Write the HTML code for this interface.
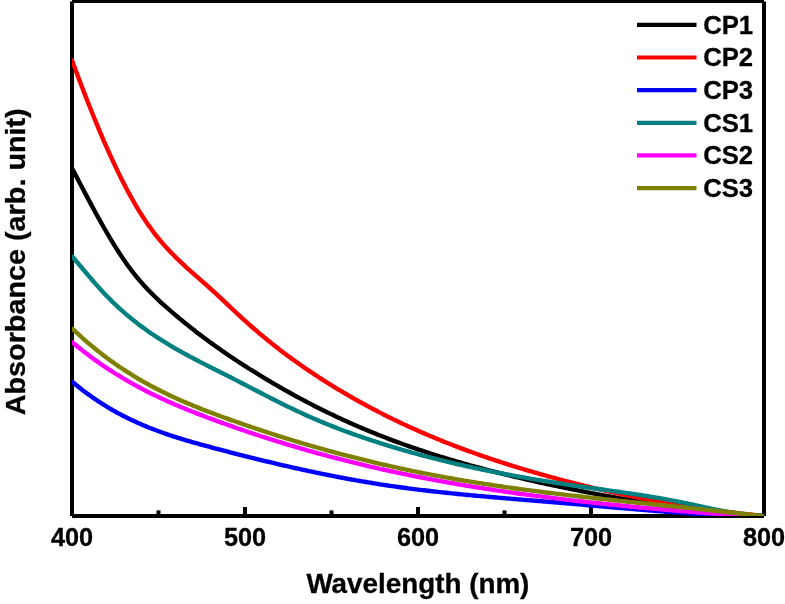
<!DOCTYPE html>
<html><head><meta charset="utf-8"><title>Absorbance</title>
<style>
html,body{margin:0;padding:0;background:#fff;}
body{width:785px;height:604px;overflow:hidden;}
svg{display:block;}
text{font-family:"Liberation Sans",Arial,Helvetica,sans-serif;font-weight:bold;fill:#000;stroke:#000;stroke-width:0.3px;}
.tk{font-size:25.3px;}
.lg{font-size:25.7px;}
.ax{font-size:27.9px;}
.ay{font-size:28.3px;}
.curves path{fill:none;stroke-width:4.4;stroke-linejoin:round;stroke-linecap:butt;}
</style></head><body>
<svg width="785" height="604" viewBox="0 0 785 604">
<rect x="0" y="0" width="785" height="604" fill="#fff"/>
<g>
<rect x="72" y="0" width="692" height="3" fill="#000"/>
<rect x="70" y="1.5" width="4" height="514.5" fill="#000"/>
<rect x="762" y="1.5" width="4" height="514.5" fill="#000"/>
<rect x="72" y="514" width="692" height="4" fill="#000"/>
<rect x="243" y="507" width="4" height="8" fill="#000"/>
<rect x="416" y="507" width="4" height="8" fill="#000"/>
<rect x="589" y="507" width="4" height="8" fill="#000"/>
<rect x="156.5" y="510.4" width="4" height="4.6" fill="#000"/>
<rect x="329.5" y="510.4" width="4" height="4.6" fill="#000"/>
<rect x="502.5" y="510.4" width="4" height="4.6" fill="#000"/>
<rect x="675.5" y="510.4" width="4" height="4.6" fill="#000"/>
</g>
<defs><clipPath id="pc"><rect x="72" y="0" width="692.4" height="516"/></clipPath></defs>
<g class="curves" clip-path="url(#pc)">
<path d="M71.5,167.20 L72.0,168.16 L74.0,171.98 L76.0,175.81 L78.0,179.64 L80.0,183.46 L82.0,187.27 L84.0,191.07 L86.0,194.85 L88.0,198.62 L90.0,202.37 L92.0,206.09 L94.0,209.79 L96.0,213.45 L98.0,217.09 L100.0,220.69 L102.0,224.25 L104.0,227.77 L106.0,231.24 L108.0,234.67 L110.0,238.05 L112.0,241.37 L114.0,244.64 L116.0,247.85 L118.0,251.00 L120.0,254.08 L122.0,257.10 L124.0,260.04 L126.0,262.91 L128.0,265.70 L130.0,268.41 L132.0,271.05 L134.0,273.61 L136.0,276.10 L138.0,278.52 L140.0,280.88 L142.0,283.17 L144.0,285.41 L146.0,287.59 L148.0,289.72 L150.0,291.79 L152.0,293.82 L154.0,295.80 L156.0,297.75 L158.0,299.65 L160.0,301.52 L162.0,303.36 L164.0,305.16 L166.0,306.94 L168.0,308.70 L170.0,310.43 L172.0,312.15 L174.0,313.85 L176.0,315.54 L178.0,317.22 L180.0,318.87 L182.0,320.52 L184.0,322.15 L186.0,323.77 L188.0,325.37 L190.0,326.96 L192.0,328.54 L194.0,330.10 L196.0,331.66 L198.0,333.19 L200.0,334.72 L202.0,336.23 L204.0,337.73 L206.0,339.22 L208.0,340.70 L210.0,342.16 L212.0,343.62 L214.0,345.06 L216.0,346.49 L218.0,347.91 L220.0,349.32 L222.0,350.72 L224.0,352.10 L226.0,353.48 L228.0,354.85 L230.0,356.20 L232.0,357.55 L234.0,358.88 L236.0,360.21 L238.0,361.53 L240.0,362.84 L242.0,364.13 L244.0,365.42 L246.0,366.70 L248.0,367.98 L250.0,369.24 L252.0,370.49 L254.0,371.74 L256.0,372.98 L258.0,374.21 L260.0,375.43 L262.0,376.65 L264.0,377.86 L266.0,379.06 L268.0,380.25 L270.0,381.44 L272.0,382.62 L274.0,383.79 L276.0,384.95 L278.0,386.11 L280.0,387.26 L282.0,388.40 L284.0,389.54 L286.0,390.67 L288.0,391.79 L290.0,392.90 L292.0,394.01 L294.0,395.10 L296.0,396.20 L298.0,397.28 L300.0,398.36 L302.0,399.43 L304.0,400.49 L306.0,401.54 L308.0,402.59 L310.0,403.63 L312.0,404.66 L314.0,405.69 L316.0,406.71 L318.0,407.72 L320.0,408.72 L322.0,409.72 L324.0,410.71 L326.0,411.69 L328.0,412.66 L330.0,413.63 L332.0,414.59 L334.0,415.54 L336.0,416.49 L338.0,417.43 L340.0,418.36 L342.0,419.28 L344.0,420.20 L346.0,421.10 L348.0,422.01 L350.0,422.90 L352.0,423.79 L354.0,424.67 L356.0,425.54 L358.0,426.41 L360.0,427.26 L362.0,428.12 L364.0,428.96 L366.0,429.80 L368.0,430.63 L370.0,431.45 L372.0,432.27 L374.0,433.08 L376.0,433.89 L378.0,434.69 L380.0,435.48 L382.0,436.26 L384.0,437.04 L386.0,437.82 L388.0,438.58 L390.0,439.34 L392.0,440.10 L394.0,440.84 L396.0,441.59 L398.0,442.32 L400.0,443.05 L402.0,443.78 L404.0,444.49 L406.0,445.21 L408.0,445.91 L410.0,446.61 L412.0,447.31 L414.0,448.00 L416.0,448.68 L418.0,449.36 L420.0,450.04 L422.0,450.70 L424.0,451.37 L426.0,452.02 L428.0,452.68 L430.0,453.32 L432.0,453.97 L434.0,454.60 L436.0,455.23 L438.0,455.86 L440.0,456.48 L442.0,457.10 L444.0,457.71 L446.0,458.32 L448.0,458.92 L450.0,459.52 L452.0,460.12 L454.0,460.70 L456.0,461.29 L458.0,461.87 L460.0,462.45 L462.0,463.02 L464.0,463.58 L466.0,464.15 L468.0,464.71 L470.0,465.26 L472.0,465.81 L474.0,466.36 L476.0,466.90 L478.0,467.44 L480.0,467.97 L482.0,468.50 L484.0,469.03 L486.0,469.56 L488.0,470.08 L490.0,470.59 L492.0,471.10 L494.0,471.61 L496.0,472.12 L498.0,472.62 L500.0,473.12 L502.0,473.62 L504.0,474.11 L506.0,474.60 L508.0,475.08 L510.0,475.57 L512.0,476.05 L514.0,476.52 L516.0,477.00 L518.0,477.47 L520.0,477.94 L522.0,478.40 L524.0,478.87 L526.0,479.33 L528.0,479.78 L530.0,480.24 L532.0,480.69 L534.0,481.14 L536.0,481.59 L538.0,482.03 L540.0,482.48 L542.0,482.92 L544.0,483.36 L546.0,483.79 L548.0,484.23 L550.0,484.66 L552.0,485.09 L554.0,485.52 L556.0,485.94 L558.0,486.36 L560.0,486.78 L562.0,487.20 L564.0,487.62 L566.0,488.03 L568.0,488.44 L570.0,488.85 L572.0,489.26 L574.0,489.66 L576.0,490.06 L578.0,490.46 L580.0,490.86 L582.0,491.25 L584.0,491.65 L586.0,492.04 L588.0,492.42 L590.0,492.81 L592.0,493.19 L594.0,493.57 L596.0,493.95 L598.0,494.33 L600.0,494.70 L602.0,495.07 L604.0,495.44 L606.0,495.81 L608.0,496.17 L610.0,496.53 L612.0,496.89 L614.0,497.25 L616.0,497.60 L618.0,497.95 L620.0,498.30 L622.0,498.65 L624.0,498.99 L626.0,499.33 L628.0,499.67 L630.0,500.01 L632.0,500.34 L634.0,500.67 L636.0,501.00 L638.0,501.33 L640.0,501.65 L642.0,501.97 L644.0,502.29 L646.0,502.61 L648.0,502.92 L650.0,503.23 L652.0,503.54 L654.0,503.85 L656.0,504.15 L658.0,504.45 L660.0,504.75 L662.0,505.05 L664.0,505.34 L666.0,505.63 L668.0,505.92 L670.0,506.20 L672.0,506.49 L674.0,506.77 L676.0,507.04 L678.0,507.32 L680.0,507.59 L682.0,507.86 L684.0,508.13 L686.0,508.39 L688.0,508.65 L690.0,508.91 L692.0,509.17 L694.0,509.42 L696.0,509.67 L698.0,509.92 L700.0,510.16 L702.0,510.40 L704.0,510.64 L706.0,510.88 L708.0,511.12 L710.0,511.35 L712.0,511.58 L714.0,511.80 L716.0,512.02 L718.0,512.24 L720.0,512.46 L722.0,512.68 L724.0,512.89 L726.0,513.10 L728.0,513.30 L730.0,513.51 L732.0,513.71 L734.0,513.91 L736.0,514.10 L738.0,514.29 L740.0,514.48 L742.0,514.67 L744.0,514.85 L746.0,515.03 L748.0,515.21 L750.0,515.39 L752.0,515.56 L754.0,515.73 L756.0,515.90 L758.0,516.06 L760.0,516.22 L762.0,516.38 L764.0,516.53" stroke="#000000"/>
<path d="M71.5,58.86 L72.0,60.22 L74.0,65.67 L76.0,71.07 L78.0,76.43 L80.0,81.74 L82.0,87.00 L84.0,92.21 L86.0,97.37 L88.0,102.47 L90.0,107.53 L92.0,112.52 L94.0,117.46 L96.0,122.35 L98.0,127.17 L100.0,131.93 L102.0,136.63 L104.0,141.27 L106.0,145.84 L108.0,150.35 L110.0,154.79 L112.0,159.16 L114.0,163.46 L116.0,167.68 L118.0,171.84 L120.0,175.92 L122.0,179.93 L124.0,183.86 L126.0,187.71 L128.0,191.48 L130.0,195.17 L132.0,198.78 L134.0,202.30 L136.0,205.74 L138.0,209.09 L140.0,212.36 L142.0,215.53 L144.0,218.62 L146.0,221.61 L148.0,224.52 L150.0,227.33 L152.0,230.07 L154.0,232.72 L156.0,235.29 L158.0,237.80 L160.0,240.23 L162.0,242.59 L164.0,244.89 L166.0,247.14 L168.0,249.32 L170.0,251.46 L172.0,253.54 L174.0,255.58 L176.0,257.57 L178.0,259.53 L180.0,261.45 L182.0,263.34 L184.0,265.20 L186.0,267.03 L188.0,268.84 L190.0,270.64 L192.0,272.41 L194.0,274.18 L196.0,275.94 L198.0,277.69 L200.0,279.44 L202.0,281.19 L204.0,282.94 L206.0,284.70 L208.0,286.46 L210.0,288.24 L212.0,290.04 L214.0,291.85 L216.0,293.68 L218.0,295.53 L220.0,297.40 L222.0,299.28 L224.0,301.17 L226.0,303.06 L228.0,304.96 L230.0,306.85 L232.0,308.75 L234.0,310.63 L236.0,312.51 L238.0,314.38 L240.0,316.23 L242.0,318.07 L244.0,319.88 L246.0,321.68 L248.0,323.47 L250.0,325.24 L252.0,326.99 L254.0,328.72 L256.0,330.44 L258.0,332.15 L260.0,333.83 L262.0,335.51 L264.0,337.16 L266.0,338.81 L268.0,340.43 L270.0,342.04 L272.0,343.64 L274.0,345.23 L276.0,346.79 L278.0,348.35 L280.0,349.89 L282.0,351.42 L284.0,352.93 L286.0,354.43 L288.0,355.92 L290.0,357.39 L292.0,358.85 L294.0,360.30 L296.0,361.73 L298.0,363.16 L300.0,364.57 L302.0,365.96 L304.0,367.35 L306.0,368.73 L308.0,370.09 L310.0,371.44 L312.0,372.78 L314.0,374.11 L316.0,375.43 L318.0,376.74 L320.0,378.03 L322.0,379.32 L324.0,380.60 L326.0,381.86 L328.0,383.12 L330.0,384.37 L332.0,385.60 L334.0,386.83 L336.0,388.05 L338.0,389.26 L340.0,390.46 L342.0,391.65 L344.0,392.83 L346.0,394.01 L348.0,395.17 L350.0,396.33 L352.0,397.47 L354.0,398.61 L356.0,399.74 L358.0,400.86 L360.0,401.97 L362.0,403.08 L364.0,404.17 L366.0,405.26 L368.0,406.34 L370.0,407.41 L372.0,408.47 L374.0,409.52 L376.0,410.56 L378.0,411.60 L380.0,412.63 L382.0,413.65 L384.0,414.67 L386.0,415.67 L388.0,416.67 L390.0,417.66 L392.0,418.64 L394.0,419.61 L396.0,420.58 L398.0,421.54 L400.0,422.49 L402.0,423.44 L404.0,424.37 L406.0,425.30 L408.0,426.23 L410.0,427.14 L412.0,428.05 L414.0,428.95 L416.0,429.85 L418.0,430.74 L420.0,431.62 L422.0,432.49 L424.0,433.36 L426.0,434.22 L428.0,435.07 L430.0,435.92 L432.0,436.76 L434.0,437.59 L436.0,438.42 L438.0,439.24 L440.0,440.06 L442.0,440.87 L444.0,441.67 L446.0,442.46 L448.0,443.25 L450.0,444.04 L452.0,444.82 L454.0,445.59 L456.0,446.36 L458.0,447.12 L460.0,447.87 L462.0,448.62 L464.0,449.37 L466.0,450.10 L468.0,450.84 L470.0,451.56 L472.0,452.29 L474.0,453.00 L476.0,453.71 L478.0,454.42 L480.0,455.12 L482.0,455.82 L484.0,456.51 L486.0,457.19 L488.0,457.87 L490.0,458.55 L492.0,459.22 L494.0,459.89 L496.0,460.55 L498.0,461.21 L500.0,461.86 L502.0,462.51 L504.0,463.15 L506.0,463.79 L508.0,464.42 L510.0,465.05 L512.0,465.68 L514.0,466.30 L516.0,466.92 L518.0,467.53 L520.0,468.14 L522.0,468.75 L524.0,469.35 L526.0,469.95 L528.0,470.54 L530.0,471.13 L532.0,471.72 L534.0,472.30 L536.0,472.88 L538.0,473.46 L540.0,474.03 L542.0,474.60 L544.0,475.16 L546.0,475.72 L548.0,476.28 L550.0,476.83 L552.0,477.38 L554.0,477.92 L556.0,478.46 L558.0,479.00 L560.0,479.54 L562.0,480.07 L564.0,480.59 L566.0,481.11 L568.0,481.63 L570.0,482.15 L572.0,482.66 L574.0,483.17 L576.0,483.67 L578.0,484.17 L580.0,484.67 L582.0,485.17 L584.0,485.66 L586.0,486.14 L588.0,486.62 L590.0,487.10 L592.0,487.58 L594.0,488.05 L596.0,488.52 L598.0,488.98 L600.0,489.45 L602.0,489.90 L604.0,490.36 L606.0,490.81 L608.0,491.26 L610.0,491.70 L612.0,492.14 L614.0,492.58 L616.0,493.01 L618.0,493.44 L620.0,493.87 L622.0,494.29 L624.0,494.71 L626.0,495.13 L628.0,495.54 L630.0,495.95 L632.0,496.35 L634.0,496.76 L636.0,497.15 L638.0,497.55 L640.0,497.94 L642.0,498.33 L644.0,498.72 L646.0,499.10 L648.0,499.48 L650.0,499.85 L652.0,500.22 L654.0,500.59 L656.0,500.96 L658.0,501.32 L660.0,501.68 L662.0,502.03 L664.0,502.39 L666.0,502.74 L668.0,503.08 L670.0,503.42 L672.0,503.76 L674.0,504.10 L676.0,504.43 L678.0,504.76 L680.0,505.09 L682.0,505.41 L684.0,505.73 L686.0,506.05 L688.0,506.36 L690.0,506.67 L692.0,506.98 L694.0,507.28 L696.0,507.58 L698.0,507.88 L700.0,508.17 L702.0,508.46 L704.0,508.75 L706.0,509.04 L708.0,509.32 L710.0,509.60 L712.0,509.87 L714.0,510.14 L716.0,510.41 L718.0,510.68 L720.0,510.94 L722.0,511.20 L724.0,511.46 L726.0,511.72 L728.0,511.97 L730.0,512.21 L732.0,512.46 L734.0,512.70 L736.0,512.94 L738.0,513.18 L740.0,513.41 L742.0,513.64 L744.0,513.87 L746.0,514.09 L748.0,514.31 L750.0,514.53 L752.0,514.75 L754.0,514.96 L756.0,515.17 L758.0,515.38 L760.0,515.58 L762.0,515.78 L764.0,515.98" stroke="#ff0000"/>
<path d="M71.5,381.15 L72.0,381.57 L74.0,383.24 L76.0,384.89 L78.0,386.50 L80.0,388.09 L82.0,389.65 L84.0,391.17 L86.0,392.67 L88.0,394.14 L90.0,395.58 L92.0,397.00 L94.0,398.38 L96.0,399.74 L98.0,401.08 L100.0,402.39 L102.0,403.67 L104.0,404.93 L106.0,406.17 L108.0,407.38 L110.0,408.56 L112.0,409.73 L114.0,410.87 L116.0,411.99 L118.0,413.08 L120.0,414.16 L122.0,415.21 L124.0,416.24 L126.0,417.26 L128.0,418.25 L130.0,419.22 L132.0,420.18 L134.0,421.11 L136.0,422.03 L138.0,422.93 L140.0,423.81 L142.0,424.68 L144.0,425.53 L146.0,426.36 L148.0,427.18 L150.0,427.98 L152.0,428.77 L154.0,429.54 L156.0,430.30 L158.0,431.04 L160.0,431.78 L162.0,432.49 L164.0,433.20 L166.0,433.90 L168.0,434.58 L170.0,435.25 L172.0,435.91 L174.0,436.56 L176.0,437.20 L178.0,437.83 L180.0,438.46 L182.0,439.07 L184.0,439.68 L186.0,440.27 L188.0,440.86 L190.0,441.45 L192.0,442.03 L194.0,442.60 L196.0,443.16 L198.0,443.72 L200.0,444.28 L202.0,444.83 L204.0,445.37 L206.0,445.91 L208.0,446.45 L210.0,446.99 L212.0,447.53 L214.0,448.06 L216.0,448.59 L218.0,449.12 L220.0,449.65 L222.0,450.17 L224.0,450.70 L226.0,451.22 L228.0,451.74 L230.0,452.26 L232.0,452.78 L234.0,453.29 L236.0,453.80 L238.0,454.32 L240.0,454.83 L242.0,455.33 L244.0,455.84 L246.0,456.35 L248.0,456.85 L250.0,457.35 L252.0,457.85 L254.0,458.34 L256.0,458.84 L258.0,459.33 L260.0,459.82 L262.0,460.31 L264.0,460.79 L266.0,461.28 L268.0,461.76 L270.0,462.23 L272.0,462.71 L274.0,463.19 L276.0,463.66 L278.0,464.13 L280.0,464.59 L282.0,465.06 L284.0,465.52 L286.0,465.98 L288.0,466.44 L290.0,466.89 L292.0,467.34 L294.0,467.79 L296.0,468.24 L298.0,468.69 L300.0,469.13 L302.0,469.57 L304.0,470.00 L306.0,470.44 L308.0,470.87 L310.0,471.29 L312.0,471.72 L314.0,472.14 L316.0,472.56 L318.0,472.98 L320.0,473.39 L322.0,473.80 L324.0,474.21 L326.0,474.61 L328.0,475.02 L330.0,475.41 L332.0,475.81 L334.0,476.20 L336.0,476.59 L338.0,476.98 L340.0,477.36 L342.0,477.74 L344.0,478.12 L346.0,478.49 L348.0,478.86 L350.0,479.22 L352.0,479.59 L354.0,479.95 L356.0,480.30 L358.0,480.66 L360.0,481.01 L362.0,481.35 L364.0,481.69 L366.0,482.03 L368.0,482.37 L370.0,482.70 L372.0,483.03 L374.0,483.35 L376.0,483.67 L378.0,483.99 L380.0,484.30 L382.0,484.61 L384.0,484.92 L386.0,485.22 L388.0,485.52 L390.0,485.81 L392.0,486.10 L394.0,486.39 L396.0,486.68 L398.0,486.96 L400.0,487.23 L402.0,487.51 L404.0,487.78 L406.0,488.04 L408.0,488.31 L410.0,488.57 L412.0,488.82 L414.0,489.08 L416.0,489.33 L418.0,489.58 L420.0,489.82 L422.0,490.06 L424.0,490.30 L426.0,490.54 L428.0,490.78 L430.0,491.01 L432.0,491.24 L434.0,491.46 L436.0,491.68 L438.0,491.91 L440.0,492.12 L442.0,492.34 L444.0,492.56 L446.0,492.77 L448.0,492.98 L450.0,493.18 L452.0,493.39 L454.0,493.59 L456.0,493.79 L458.0,493.99 L460.0,494.19 L462.0,494.39 L464.0,494.58 L466.0,494.77 L468.0,494.96 L470.0,495.15 L472.0,495.34 L474.0,495.52 L476.0,495.71 L478.0,495.89 L480.0,496.07 L482.0,496.25 L484.0,496.43 L486.0,496.61 L488.0,496.78 L490.0,496.96 L492.0,497.13 L494.0,497.31 L496.0,497.48 L498.0,497.65 L500.0,497.82 L502.0,497.99 L504.0,498.16 L506.0,498.33 L508.0,498.49 L510.0,498.66 L512.0,498.83 L514.0,498.99 L516.0,499.16 L518.0,499.32 L520.0,499.49 L522.0,499.65 L524.0,499.82 L526.0,499.98 L528.0,500.14 L530.0,500.31 L532.0,500.47 L534.0,500.63 L536.0,500.80 L538.0,500.96 L540.0,501.13 L542.0,501.29 L544.0,501.45 L546.0,501.62 L548.0,501.78 L550.0,501.95 L552.0,502.12 L554.0,502.28 L556.0,502.45 L558.0,502.62 L560.0,502.78 L562.0,502.95 L564.0,503.12 L566.0,503.29 L568.0,503.47 L570.0,503.64 L572.0,503.81 L574.0,503.98 L576.0,504.16 L578.0,504.33 L580.0,504.50 L582.0,504.68 L584.0,504.85 L586.0,505.03 L588.0,505.20 L590.0,505.38 L592.0,505.55 L594.0,505.73 L596.0,505.90 L598.0,506.08 L600.0,506.26 L602.0,506.43 L604.0,506.61 L606.0,506.78 L608.0,506.95 L610.0,507.13 L612.0,507.30 L614.0,507.48 L616.0,507.65 L618.0,507.82 L620.0,507.99 L622.0,508.17 L624.0,508.34 L626.0,508.51 L628.0,508.68 L630.0,508.84 L632.0,509.01 L634.0,509.18 L636.0,509.35 L638.0,509.51 L640.0,509.67 L642.0,509.84 L644.0,510.00 L646.0,510.16 L648.0,510.32 L650.0,510.48 L652.0,510.64 L654.0,510.79 L656.0,510.95 L658.0,511.10 L660.0,511.25 L662.0,511.40 L664.0,511.55 L666.0,511.70 L668.0,511.84 L670.0,511.99 L672.0,512.13 L674.0,512.27 L676.0,512.41 L678.0,512.54 L680.0,512.68 L682.0,512.81 L684.0,512.94 L686.0,513.07 L688.0,513.20 L690.0,513.32 L692.0,513.44 L694.0,513.56 L696.0,513.68 L698.0,513.80 L700.0,513.91 L702.0,514.02 L704.0,514.13 L706.0,514.24 L708.0,514.34 L710.0,514.44 L712.0,514.54 L714.0,514.63 L716.0,514.73 L718.0,514.82 L720.0,514.90 L722.0,514.99 L724.0,515.07 L726.0,515.15 L728.0,515.22 L730.0,515.30 L732.0,515.36 L734.0,515.43 L736.0,515.49 L738.0,515.55 L740.0,515.61 L742.0,515.66 L744.0,515.71 L746.0,515.76 L748.0,515.80 L750.0,515.84 L752.0,515.88 L754.0,515.91 L756.0,515.94 L758.0,515.96 L760.0,515.99 L762.0,516.00 L764.0,516.02" stroke="#0000ff"/>
<path d="M71.5,255.52 L72.0,256.10 L74.0,258.46 L76.0,260.83 L78.0,263.21 L80.0,265.59 L82.0,267.98 L84.0,270.35 L86.0,272.73 L88.0,275.09 L90.0,277.44 L92.0,279.77 L94.0,282.08 L96.0,284.36 L98.0,286.61 L100.0,288.84 L102.0,291.02 L104.0,293.17 L106.0,295.28 L108.0,297.34 L110.0,299.36 L112.0,301.35 L114.0,303.29 L116.0,305.19 L118.0,307.06 L120.0,308.89 L122.0,310.68 L124.0,312.44 L126.0,314.17 L128.0,315.86 L130.0,317.52 L132.0,319.15 L134.0,320.75 L136.0,322.32 L138.0,323.87 L140.0,325.38 L142.0,326.87 L144.0,328.33 L146.0,329.77 L148.0,331.19 L150.0,332.58 L152.0,333.95 L154.0,335.30 L156.0,336.62 L158.0,337.93 L160.0,339.22 L162.0,340.48 L164.0,341.73 L166.0,342.96 L168.0,344.18 L170.0,345.38 L172.0,346.56 L174.0,347.73 L176.0,348.88 L178.0,350.02 L180.0,351.14 L182.0,352.26 L184.0,353.36 L186.0,354.45 L188.0,355.53 L190.0,356.60 L192.0,357.66 L194.0,358.72 L196.0,359.77 L198.0,360.81 L200.0,361.84 L202.0,362.87 L204.0,363.89 L206.0,364.91 L208.0,365.92 L210.0,366.94 L212.0,367.95 L214.0,368.96 L216.0,369.96 L218.0,370.97 L220.0,371.98 L222.0,372.99 L224.0,374.00 L226.0,375.01 L228.0,376.03 L230.0,377.05 L232.0,378.08 L234.0,379.10 L236.0,380.13 L238.0,381.16 L240.0,382.20 L242.0,383.23 L244.0,384.27 L246.0,385.30 L248.0,386.34 L250.0,387.38 L252.0,388.41 L254.0,389.45 L256.0,390.49 L258.0,391.52 L260.0,392.55 L262.0,393.58 L264.0,394.61 L266.0,395.64 L268.0,396.66 L270.0,397.68 L272.0,398.70 L274.0,399.71 L276.0,400.72 L278.0,401.72 L280.0,402.72 L282.0,403.72 L284.0,404.71 L286.0,405.69 L288.0,406.67 L290.0,407.64 L292.0,408.60 L294.0,409.56 L296.0,410.51 L298.0,411.45 L300.0,412.38 L302.0,413.31 L304.0,414.23 L306.0,415.13 L308.0,416.03 L310.0,416.92 L312.0,417.80 L314.0,418.67 L316.0,419.53 L318.0,420.38 L320.0,421.22 L322.0,422.06 L324.0,422.88 L326.0,423.70 L328.0,424.51 L330.0,425.31 L332.0,426.10 L334.0,426.89 L336.0,427.66 L338.0,428.43 L340.0,429.20 L342.0,429.95 L344.0,430.70 L346.0,431.44 L348.0,432.17 L350.0,432.90 L352.0,433.62 L354.0,434.33 L356.0,435.04 L358.0,435.74 L360.0,436.43 L362.0,437.12 L364.0,437.80 L366.0,438.48 L368.0,439.15 L370.0,439.81 L372.0,440.47 L374.0,441.13 L376.0,441.78 L378.0,442.42 L380.0,443.06 L382.0,443.69 L384.0,444.32 L386.0,444.94 L388.0,445.56 L390.0,446.17 L392.0,446.78 L394.0,447.39 L396.0,447.98 L398.0,448.58 L400.0,449.17 L402.0,449.75 L404.0,450.33 L406.0,450.90 L408.0,451.47 L410.0,452.04 L412.0,452.60 L414.0,453.15 L416.0,453.70 L418.0,454.25 L420.0,454.79 L422.0,455.33 L424.0,455.86 L426.0,456.39 L428.0,456.91 L430.0,457.43 L432.0,457.94 L434.0,458.45 L436.0,458.96 L438.0,459.46 L440.0,459.96 L442.0,460.45 L444.0,460.94 L446.0,461.43 L448.0,461.91 L450.0,462.39 L452.0,462.86 L454.0,463.33 L456.0,463.80 L458.0,464.26 L460.0,464.72 L462.0,465.17 L464.0,465.62 L466.0,466.07 L468.0,466.51 L470.0,466.95 L472.0,467.39 L474.0,467.82 L476.0,468.25 L478.0,468.67 L480.0,469.09 L482.0,469.51 L484.0,469.92 L486.0,470.33 L488.0,470.74 L490.0,471.15 L492.0,471.55 L494.0,471.94 L496.0,472.34 L498.0,472.73 L500.0,473.12 L502.0,473.50 L504.0,473.88 L506.0,474.26 L508.0,474.64 L510.0,475.01 L512.0,475.38 L514.0,475.75 L516.0,476.11 L518.0,476.47 L520.0,476.83 L522.0,477.19 L524.0,477.54 L526.0,477.89 L528.0,478.23 L530.0,478.58 L532.0,478.92 L534.0,479.26 L536.0,479.60 L538.0,479.93 L540.0,480.26 L542.0,480.59 L544.0,480.92 L546.0,481.24 L548.0,481.56 L550.0,481.88 L552.0,482.20 L554.0,482.51 L556.0,482.83 L558.0,483.14 L560.0,483.45 L562.0,483.75 L564.0,484.06 L566.0,484.36 L568.0,484.66 L570.0,484.96 L572.0,485.25 L574.0,485.55 L576.0,485.84 L578.0,486.13 L580.0,486.42 L582.0,486.70 L584.0,486.99 L586.0,487.27 L588.0,487.56 L590.0,487.84 L592.0,488.12 L594.0,488.40 L596.0,488.67 L598.0,488.95 L600.0,489.23 L602.0,489.51 L604.0,489.79 L606.0,490.06 L608.0,490.34 L610.0,490.62 L612.0,490.90 L614.0,491.18 L616.0,491.46 L618.0,491.74 L620.0,492.03 L622.0,492.31 L624.0,492.60 L626.0,492.89 L628.0,493.18 L630.0,493.47 L632.0,493.76 L634.0,494.06 L636.0,494.36 L638.0,494.67 L640.0,494.97 L642.0,495.28 L644.0,495.59 L646.0,495.91 L648.0,496.23 L650.0,496.56 L652.0,496.88 L654.0,497.22 L656.0,497.55 L658.0,497.89 L660.0,498.24 L662.0,498.59 L664.0,498.95 L666.0,499.31 L668.0,499.67 L670.0,500.04 L672.0,500.42 L674.0,500.81 L676.0,501.20 L678.0,501.59 L680.0,501.99 L682.0,502.40 L684.0,502.82 L686.0,503.24 L688.0,503.66 L690.0,504.09 L692.0,504.52 L694.0,504.95 L696.0,505.39 L698.0,505.83 L700.0,506.26 L702.0,506.70 L704.0,507.13 L706.0,507.56 L708.0,507.99 L710.0,508.42 L712.0,508.84 L714.0,509.26 L716.0,509.67 L718.0,510.07 L720.0,510.47 L722.0,510.86 L724.0,511.24 L726.0,511.61 L728.0,511.97 L730.0,512.31 L732.0,512.65 L734.0,512.98 L736.0,513.29 L738.0,513.59 L740.0,513.87 L742.0,514.14 L744.0,514.39 L746.0,514.62 L748.0,514.84 L750.0,515.04 L752.0,515.22 L754.0,515.38 L756.0,515.52 L758.0,515.64 L760.0,515.73 L762.0,515.81 L764.0,515.86" stroke="#008080"/>
<path d="M71.5,341.55 L72.0,341.98 L74.0,343.65 L76.0,345.30 L78.0,346.94 L80.0,348.54 L82.0,350.13 L84.0,351.69 L86.0,353.24 L88.0,354.76 L90.0,356.26 L92.0,357.74 L94.0,359.20 L96.0,360.64 L98.0,362.06 L100.0,363.46 L102.0,364.84 L104.0,366.21 L106.0,367.55 L108.0,368.87 L110.0,370.18 L112.0,371.47 L114.0,372.74 L116.0,374.00 L118.0,375.24 L120.0,376.46 L122.0,377.66 L124.0,378.85 L126.0,380.02 L128.0,381.18 L130.0,382.32 L132.0,383.45 L134.0,384.56 L136.0,385.65 L138.0,386.74 L140.0,387.80 L142.0,388.86 L144.0,389.90 L146.0,390.93 L148.0,391.94 L150.0,392.94 L152.0,393.93 L154.0,394.91 L156.0,395.87 L158.0,396.83 L160.0,397.77 L162.0,398.70 L164.0,399.62 L166.0,400.53 L168.0,401.43 L170.0,402.32 L172.0,403.20 L174.0,404.07 L176.0,404.93 L178.0,405.79 L180.0,406.63 L182.0,407.46 L184.0,408.29 L186.0,409.11 L188.0,409.92 L190.0,410.73 L192.0,411.53 L194.0,412.32 L196.0,413.10 L198.0,413.88 L200.0,414.65 L202.0,415.42 L204.0,416.18 L206.0,416.94 L208.0,417.69 L210.0,418.43 L212.0,419.18 L214.0,419.91 L216.0,420.65 L218.0,421.38 L220.0,422.11 L222.0,422.83 L224.0,423.55 L226.0,424.27 L228.0,424.98 L230.0,425.69 L232.0,426.39 L234.0,427.09 L236.0,427.79 L238.0,428.48 L240.0,429.17 L242.0,429.86 L244.0,430.54 L246.0,431.22 L248.0,431.90 L250.0,432.57 L252.0,433.24 L254.0,433.90 L256.0,434.56 L258.0,435.22 L260.0,435.88 L262.0,436.53 L264.0,437.17 L266.0,437.82 L268.0,438.46 L270.0,439.09 L272.0,439.72 L274.0,440.35 L276.0,440.98 L278.0,441.60 L280.0,442.22 L282.0,442.83 L284.0,443.45 L286.0,444.05 L288.0,444.66 L290.0,445.26 L292.0,445.86 L294.0,446.45 L296.0,447.04 L298.0,447.63 L300.0,448.21 L302.0,448.79 L304.0,449.37 L306.0,449.94 L308.0,450.51 L310.0,451.08 L312.0,451.64 L314.0,452.20 L316.0,452.76 L318.0,453.31 L320.0,453.86 L322.0,454.41 L324.0,454.95 L326.0,455.49 L328.0,456.03 L330.0,456.56 L332.0,457.09 L334.0,457.62 L336.0,458.14 L338.0,458.66 L340.0,459.18 L342.0,459.69 L344.0,460.20 L346.0,460.71 L348.0,461.21 L350.0,461.71 L352.0,462.21 L354.0,462.70 L356.0,463.20 L358.0,463.68 L360.0,464.17 L362.0,464.65 L364.0,465.13 L366.0,465.60 L368.0,466.07 L370.0,466.54 L372.0,467.01 L374.0,467.47 L376.0,467.93 L378.0,468.38 L380.0,468.84 L382.0,469.29 L384.0,469.73 L386.0,470.18 L388.0,470.62 L390.0,471.05 L392.0,471.49 L394.0,471.92 L396.0,472.35 L398.0,472.77 L400.0,473.19 L402.0,473.61 L404.0,474.03 L406.0,474.44 L408.0,474.85 L410.0,475.26 L412.0,475.67 L414.0,476.07 L416.0,476.47 L418.0,476.86 L420.0,477.26 L422.0,477.65 L424.0,478.03 L426.0,478.42 L428.0,478.80 L430.0,479.18 L432.0,479.56 L434.0,479.93 L436.0,480.30 L438.0,480.67 L440.0,481.04 L442.0,481.40 L444.0,481.76 L446.0,482.12 L448.0,482.48 L450.0,482.83 L452.0,483.18 L454.0,483.53 L456.0,483.88 L458.0,484.22 L460.0,484.56 L462.0,484.90 L464.0,485.24 L466.0,485.57 L468.0,485.90 L470.0,486.23 L472.0,486.56 L474.0,486.88 L476.0,487.21 L478.0,487.53 L480.0,487.84 L482.0,488.16 L484.0,488.47 L486.0,488.78 L488.0,489.09 L490.0,489.40 L492.0,489.70 L494.0,490.01 L496.0,490.31 L498.0,490.60 L500.0,490.90 L502.0,491.19 L504.0,491.49 L506.0,491.78 L508.0,492.06 L510.0,492.35 L512.0,492.63 L514.0,492.92 L516.0,493.20 L518.0,493.47 L520.0,493.75 L522.0,494.02 L524.0,494.30 L526.0,494.57 L528.0,494.84 L530.0,495.10 L532.0,495.37 L534.0,495.63 L536.0,495.89 L538.0,496.15 L540.0,496.41 L542.0,496.67 L544.0,496.92 L546.0,497.18 L548.0,497.43 L550.0,497.68 L552.0,497.93 L554.0,498.17 L556.0,498.42 L558.0,498.66 L560.0,498.90 L562.0,499.14 L564.0,499.38 L566.0,499.62 L568.0,499.86 L570.0,500.09 L572.0,500.32 L574.0,500.56 L576.0,500.79 L578.0,501.02 L580.0,501.24 L582.0,501.47 L584.0,501.69 L586.0,501.92 L588.0,502.14 L590.0,502.36 L592.0,502.58 L594.0,502.80 L596.0,503.01 L598.0,503.23 L600.0,503.44 L602.0,503.66 L604.0,503.87 L606.0,504.08 L608.0,504.29 L610.0,504.50 L612.0,504.70 L614.0,504.91 L616.0,505.11 L618.0,505.31 L620.0,505.51 L622.0,505.71 L624.0,505.91 L626.0,506.11 L628.0,506.30 L630.0,506.50 L632.0,506.69 L634.0,506.88 L636.0,507.08 L638.0,507.26 L640.0,507.45 L642.0,507.64 L644.0,507.82 L646.0,508.01 L648.0,508.19 L650.0,508.37 L652.0,508.55 L654.0,508.73 L656.0,508.91 L658.0,509.09 L660.0,509.26 L662.0,509.43 L664.0,509.61 L666.0,509.78 L668.0,509.95 L670.0,510.12 L672.0,510.28 L674.0,510.45 L676.0,510.61 L678.0,510.78 L680.0,510.94 L682.0,511.10 L684.0,511.26 L686.0,511.42 L688.0,511.58 L690.0,511.73 L692.0,511.89 L694.0,512.04 L696.0,512.19 L698.0,512.34 L700.0,512.49 L702.0,512.64 L704.0,512.79 L706.0,512.93 L708.0,513.08 L710.0,513.22 L712.0,513.36 L714.0,513.50 L716.0,513.64 L718.0,513.78 L720.0,513.92 L722.0,514.05 L724.0,514.19 L726.0,514.32 L728.0,514.45 L730.0,514.58 L732.0,514.71 L734.0,514.84 L736.0,514.97 L738.0,515.09 L740.0,515.22 L742.0,515.34 L744.0,515.46 L746.0,515.58 L748.0,515.70 L750.0,515.82 L752.0,515.94 L754.0,516.05 L756.0,516.17 L758.0,516.28 L760.0,516.39 L762.0,516.50 L764.0,516.61" stroke="#ff00ff"/>
<path d="M71.5,327.75 L72.0,328.23 L74.0,330.15 L76.0,332.03 L78.0,333.89 L80.0,335.72 L82.0,337.53 L84.0,339.31 L86.0,341.06 L88.0,342.79 L90.0,344.49 L92.0,346.17 L94.0,347.82 L96.0,349.45 L98.0,351.05 L100.0,352.63 L102.0,354.19 L104.0,355.73 L106.0,357.24 L108.0,358.73 L110.0,360.19 L112.0,361.64 L114.0,363.06 L116.0,364.46 L118.0,365.84 L120.0,367.20 L122.0,368.54 L124.0,369.87 L126.0,371.17 L128.0,372.45 L130.0,373.71 L132.0,374.95 L134.0,376.18 L136.0,377.39 L138.0,378.58 L140.0,379.75 L142.0,380.90 L144.0,382.04 L146.0,383.16 L148.0,384.27 L150.0,385.36 L152.0,386.44 L154.0,387.49 L156.0,388.54 L158.0,389.57 L160.0,390.58 L162.0,391.59 L164.0,392.57 L166.0,393.55 L168.0,394.51 L170.0,395.46 L172.0,396.40 L174.0,397.32 L176.0,398.23 L178.0,399.14 L180.0,400.03 L182.0,400.91 L184.0,401.78 L186.0,402.63 L188.0,403.48 L190.0,404.32 L192.0,405.15 L194.0,405.98 L196.0,406.79 L198.0,407.59 L200.0,408.39 L202.0,409.18 L204.0,409.96 L206.0,410.74 L208.0,411.50 L210.0,412.27 L212.0,413.02 L214.0,413.77 L216.0,414.52 L218.0,415.26 L220.0,415.99 L222.0,416.72 L224.0,417.45 L226.0,418.17 L228.0,418.89 L230.0,419.61 L232.0,420.32 L234.0,421.03 L236.0,421.73 L238.0,422.44 L240.0,423.13 L242.0,423.83 L244.0,424.52 L246.0,425.21 L248.0,425.90 L250.0,426.58 L252.0,427.26 L254.0,427.93 L256.0,428.60 L258.0,429.27 L260.0,429.94 L262.0,430.60 L264.0,431.26 L266.0,431.92 L268.0,432.57 L270.0,433.22 L272.0,433.86 L274.0,434.50 L276.0,435.14 L278.0,435.78 L280.0,436.41 L282.0,437.04 L284.0,437.66 L286.0,438.29 L288.0,438.91 L290.0,439.52 L292.0,440.13 L294.0,440.74 L296.0,441.35 L298.0,441.95 L300.0,442.55 L302.0,443.15 L304.0,443.74 L306.0,444.33 L308.0,444.91 L310.0,445.50 L312.0,446.07 L314.0,446.65 L316.0,447.22 L318.0,447.79 L320.0,448.36 L322.0,448.92 L324.0,449.48 L326.0,450.04 L328.0,450.59 L330.0,451.14 L332.0,451.69 L334.0,452.23 L336.0,452.77 L338.0,453.31 L340.0,453.84 L342.0,454.37 L344.0,454.90 L346.0,455.42 L348.0,455.94 L350.0,456.46 L352.0,456.97 L354.0,457.48 L356.0,457.99 L358.0,458.49 L360.0,458.99 L362.0,459.49 L364.0,459.98 L366.0,460.47 L368.0,460.96 L370.0,461.44 L372.0,461.93 L374.0,462.40 L376.0,462.88 L378.0,463.35 L380.0,463.82 L382.0,464.28 L384.0,464.74 L386.0,465.20 L388.0,465.66 L390.0,466.11 L392.0,466.56 L394.0,467.00 L396.0,467.44 L398.0,467.88 L400.0,468.32 L402.0,468.75 L404.0,469.18 L406.0,469.61 L408.0,470.03 L410.0,470.45 L412.0,470.86 L414.0,471.28 L416.0,471.69 L418.0,472.09 L420.0,472.50 L422.0,472.90 L424.0,473.29 L426.0,473.69 L428.0,474.08 L430.0,474.46 L432.0,474.85 L434.0,475.23 L436.0,475.61 L438.0,475.98 L440.0,476.35 L442.0,476.72 L444.0,477.09 L446.0,477.45 L448.0,477.81 L450.0,478.17 L452.0,478.52 L454.0,478.87 L456.0,479.22 L458.0,479.57 L460.0,479.91 L462.0,480.25 L464.0,480.59 L466.0,480.92 L468.0,481.26 L470.0,481.59 L472.0,481.91 L474.0,482.24 L476.0,482.56 L478.0,482.88 L480.0,483.20 L482.0,483.51 L484.0,483.82 L486.0,484.13 L488.0,484.44 L490.0,484.75 L492.0,485.05 L494.0,485.35 L496.0,485.65 L498.0,485.94 L500.0,486.24 L502.0,486.53 L504.0,486.82 L506.0,487.10 L508.0,487.39 L510.0,487.67 L512.0,487.95 L514.0,488.23 L516.0,488.51 L518.0,488.79 L520.0,489.06 L522.0,489.33 L524.0,489.60 L526.0,489.87 L528.0,490.13 L530.0,490.40 L532.0,490.66 L534.0,490.92 L536.0,491.18 L538.0,491.44 L540.0,491.69 L542.0,491.95 L544.0,492.20 L546.0,492.45 L548.0,492.70 L550.0,492.94 L552.0,493.19 L554.0,493.44 L556.0,493.68 L558.0,493.92 L560.0,494.16 L562.0,494.40 L564.0,494.64 L566.0,494.87 L568.0,495.11 L570.0,495.34 L572.0,495.58 L574.0,495.81 L576.0,496.04 L578.0,496.27 L580.0,496.50 L582.0,496.72 L584.0,496.95 L586.0,497.17 L588.0,497.40 L590.0,497.62 L592.0,497.84 L594.0,498.06 L596.0,498.28 L598.0,498.50 L600.0,498.72 L602.0,498.94 L604.0,499.16 L606.0,499.37 L608.0,499.59 L610.0,499.80 L612.0,500.02 L614.0,500.23 L616.0,500.44 L618.0,500.66 L620.0,500.87 L622.0,501.08 L624.0,501.29 L626.0,501.50 L628.0,501.71 L630.0,501.92 L632.0,502.13 L634.0,502.34 L636.0,502.54 L638.0,502.75 L640.0,502.96 L642.0,503.17 L644.0,503.37 L646.0,503.58 L648.0,503.79 L650.0,503.99 L652.0,504.20 L654.0,504.41 L656.0,504.61 L658.0,504.82 L660.0,505.03 L662.0,505.23 L664.0,505.44 L666.0,505.64 L668.0,505.85 L670.0,506.06 L672.0,506.26 L674.0,506.47 L676.0,506.68 L678.0,506.89 L680.0,507.09 L682.0,507.30 L684.0,507.51 L686.0,507.72 L688.0,507.93 L690.0,508.14 L692.0,508.35 L694.0,508.56 L696.0,508.77 L698.0,508.98 L700.0,509.19 L702.0,509.40 L704.0,509.62 L706.0,509.83 L708.0,510.04 L710.0,510.26 L712.0,510.48 L714.0,510.69 L716.0,510.91 L718.0,511.13 L720.0,511.35 L722.0,511.56 L724.0,511.79 L726.0,512.01 L728.0,512.23 L730.0,512.45 L732.0,512.68 L734.0,512.90 L736.0,513.13 L738.0,513.35 L740.0,513.58 L742.0,513.81 L744.0,514.04 L746.0,514.27 L748.0,514.51 L750.0,514.74 L752.0,514.98 L754.0,515.21 L756.0,515.45 L758.0,515.69 L760.0,515.93 L762.0,516.17 L764.0,516.42" stroke="#808000"/>
</g>
<g>
<text x="72" y="545.7" class="tk" text-anchor="middle">400</text>
<text x="245" y="545.7" class="tk" text-anchor="middle">500</text>
<text x="418" y="545.7" class="tk" text-anchor="middle">600</text>
<text x="591" y="545.7" class="tk" text-anchor="middle">700</text>
<text x="764" y="545.7" class="tk" text-anchor="middle">800</text>
</g>
<g>
<line x1="637" y1="24.8" x2="696.5" y2="24.8" stroke="#000000" stroke-width="4.2"/>
<text x="703.2" y="33.6" class="lg">CP1</text>
<line x1="637" y1="57.5" x2="696.5" y2="57.5" stroke="#ff0000" stroke-width="4.2"/>
<text x="703.2" y="66.3" class="lg">CP2</text>
<line x1="637" y1="90.1" x2="696.5" y2="90.1" stroke="#0000ff" stroke-width="4.2"/>
<text x="703.2" y="98.9" class="lg">CP3</text>
<line x1="637" y1="122.8" x2="696.5" y2="122.8" stroke="#008080" stroke-width="4.2"/>
<text x="703.2" y="131.6" class="lg">CS1</text>
<line x1="637" y1="155.4" x2="696.5" y2="155.4" stroke="#ff00ff" stroke-width="4.2"/>
<text x="703.2" y="164.2" class="lg">CS2</text>
<line x1="637" y1="188.1" x2="696.5" y2="188.1" stroke="#808000" stroke-width="4.2"/>
<text x="703.2" y="196.9" class="lg">CS3</text>
</g>
<text x="417.9" y="593" class="ax" text-anchor="middle" textLength="223" lengthAdjust="spacingAndGlyphs">Wavelength (nm)</text>
<text transform="translate(24.7,261.8) rotate(-90)" class="ay" text-anchor="middle" textLength="307" lengthAdjust="spacingAndGlyphs">Absorbance (arb. unit)</text>
</svg>
</body></html>
